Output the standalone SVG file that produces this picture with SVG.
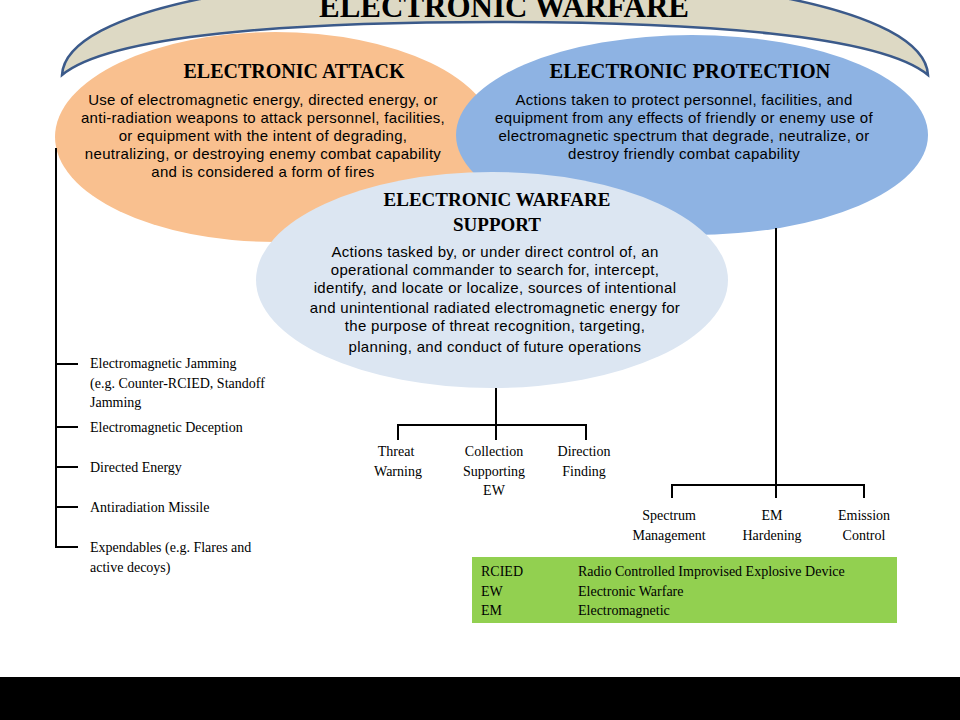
<svg xmlns="http://www.w3.org/2000/svg" width="960" height="720" viewBox="0 0 960 720">
<style>
.t{font-family:"Liberation Serif",serif;font-weight:bold;fill:#000;text-anchor:middle}
.b{font-family:"Liberation Sans",sans-serif;font-size:15px;letter-spacing:0.3px;fill:#000;text-anchor:middle}
.s{font-family:"Liberation Serif",serif;font-size:14px;fill:#000}
.c{font-family:"Liberation Serif",serif;font-size:14px;fill:#000;text-anchor:middle}
.l{stroke:#000;stroke-width:2;fill:none}
</style>
<rect width="960" height="720" fill="#fff"/>
<g id="ew">
<path d="M62,75 C70,-60 920,-60 928,75 C880,35 700,22 495,22 C290,22 110,35 62,75 Z" fill="#ddd9c4" stroke="#3b5a8a" stroke-width="2.5"/>
<text class="t" x="504" y="17" font-size="31">ELECTRONIC WARFARE</text>
</g>
<g id="ea">
<ellipse cx="275" cy="137" rx="220" ry="105" fill="#f9c08f"/>
<text class="t" x="294" y="78" font-size="20">ELECTRONIC ATTACK</text>
<text class="b"><tspan x="263" y="105">Use of electromagnetic energy, directed energy, or</tspan><tspan x="263" y="123">anti-radiation weapons to attack personnel, facilities,</tspan><tspan x="263" y="141">or equipment with the intent of degrading,</tspan><tspan x="263" y="159">neutralizing, or destroying enemy combat capability</tspan><tspan x="263" y="177">and is considered a form of fires</tspan></text>
</g>
<g id="ep">
<ellipse cx="692" cy="135" rx="236" ry="100" fill="#8eb3e3"/>
<text class="t" x="690" y="78" font-size="20.5">ELECTRONIC PROTECTION</text>
<text class="b"><tspan x="684" y="105">Actions taken to protect personnel, facilities, and</tspan><tspan x="684" y="123">equipment from any effects of friendly or enemy use of</tspan><tspan x="684" y="141">electromagnetic spectrum that degrade, neutralize, or</tspan><tspan x="684" y="159">destroy friendly combat capability</tspan></text>
</g>
<g id="ews">
<ellipse cx="492" cy="280" rx="236" ry="108" fill="#dce6f2"/>
<text class="t" x="497" y="206" font-size="19">ELECTRONIC WARFARE</text>
<text class="t" x="497" y="231" font-size="19">SUPPORT</text>
<text class="b"><tspan x="495" y="257">Actions tasked by, or under direct control of, an</tspan><tspan x="495" y="275">operational commander to search for, intercept,</tspan><tspan x="495" y="293">identify, and locate or localize, sources of intentional</tspan><tspan x="495" y="313">and unintentional radiated electromagnetic energy for</tspan><tspan x="495" y="331">the purpose of threat recognition, targeting,</tspan><tspan x="495" y="352">planning, and conduct of future operations</tspan></text>
</g>
<g id="connectors">
<path class="l" d="M56,148 V548 M56,364 H78 M56,427 H78 M56,467 H78 M56,507 H78 M56,547 H78"/>
<path class="l" d="M496,388 V425 M398,425 H586 M398,424 V440 M496,425 V440 M586,424 V440"/>
<path class="l" d="M776,228 V485 M672,485 H864 M672,484 V498 M776,485 V498 M864,484 V498"/>
</g>
<g id="ea-items">
<text class="s"><tspan x="90" y="368">Electromagnetic Jamming</tspan><tspan x="90" y="388">(e.g. Counter-RCIED, Standoff</tspan><tspan x="90" y="407">Jamming</tspan></text>
<text class="s" x="90" y="432">Electromagnetic Deception</text>
<text class="s" x="90" y="472">Directed Energy</text>
<text class="s" x="90" y="512">Antiradiation Missile</text>
<text class="s"><tspan x="90" y="552">Expendables (e.g. Flares and</tspan><tspan x="90" y="572">active decoys)</tspan></text>
</g>
<g id="ews-items">
<text class="c"><tspan x="396" y="456">Threat</tspan><tspan x="398" y="476">Warning</tspan></text>
<text class="c"><tspan x="494" y="456">Collection</tspan><tspan x="494" y="476">Supporting</tspan><tspan x="494" y="495">EW</tspan></text>
<text class="c"><tspan x="584" y="456">Direction</tspan><tspan x="584" y="476">Finding</tspan></text>
</g>
<g id="ep-items">
<text class="c"><tspan x="669" y="520">Spectrum</tspan><tspan x="669" y="540">Management</tspan></text>
<text class="c"><tspan x="772" y="520">EM</tspan><tspan x="772" y="540">Hardening</tspan></text>
<text class="c"><tspan x="864" y="520">Emission</tspan><tspan x="864" y="540">Control</tspan></text>
</g>
<g id="legend">
<rect x="472" y="557" width="425" height="66" fill="#92d050"/>
<text class="s"><tspan x="481" y="576">RCIED</tspan><tspan x="481" y="596">EW</tspan><tspan x="481" y="615">EM</tspan></text>
<text class="s"><tspan x="578" y="576">Radio Controlled Improvised Explosive Device</tspan><tspan x="578" y="596">Electronic Warfare</tspan><tspan x="578" y="615">Electromagnetic</tspan></text>
</g>
<rect x="0" y="677" width="960" height="43" fill="#000"/>
</svg>
